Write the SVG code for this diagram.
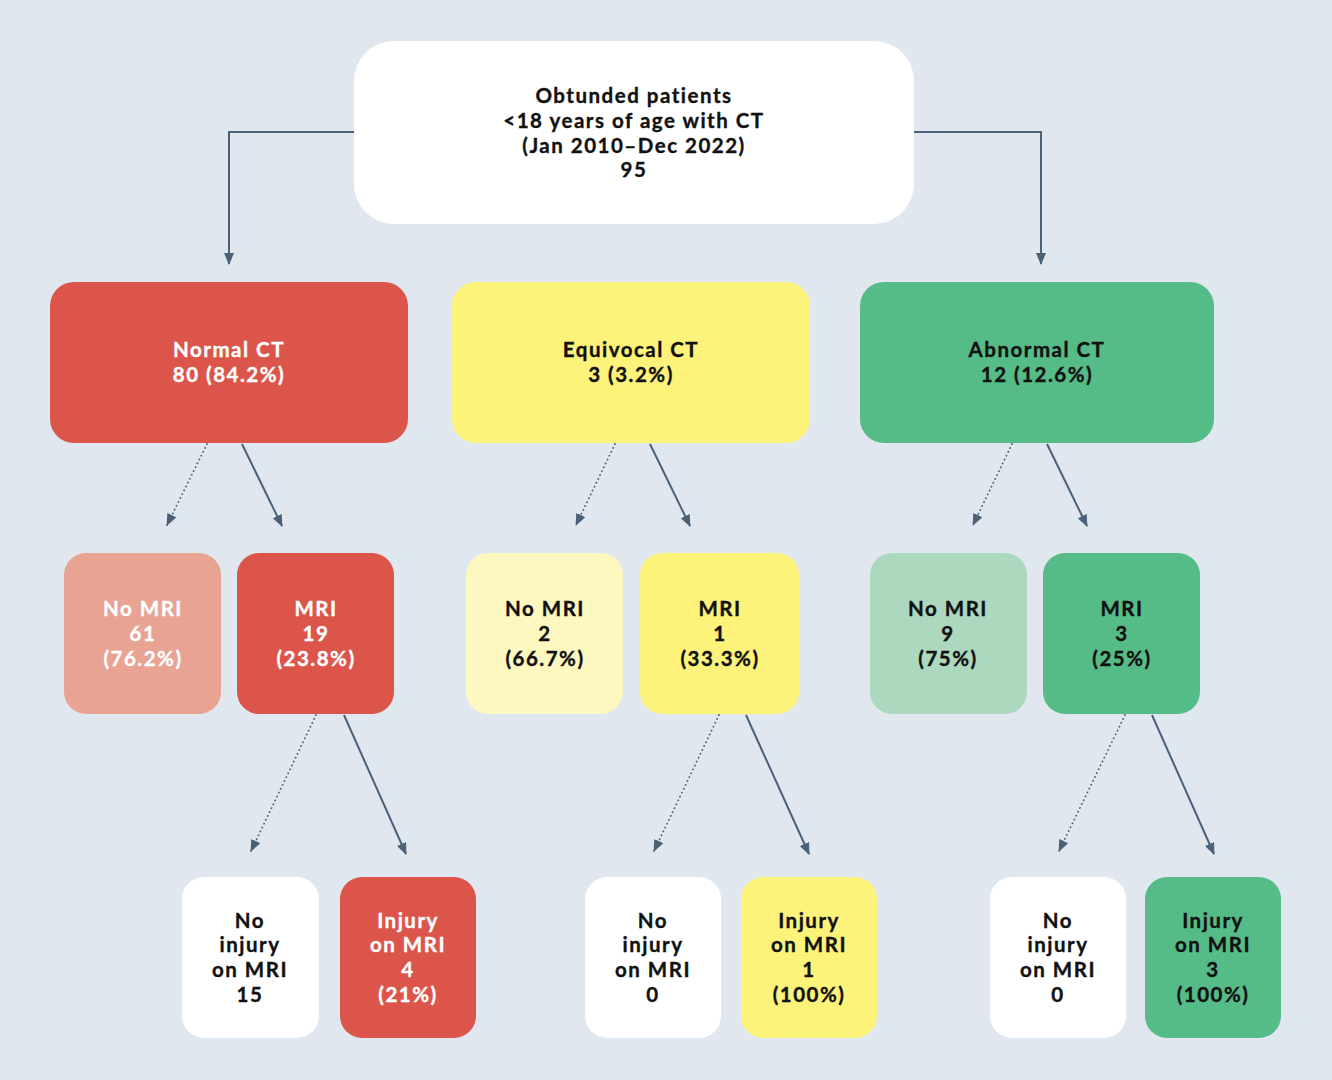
<svg xmlns="http://www.w3.org/2000/svg" width="1332" height="1080" viewBox="0 0 1332 1080">
<style>
.t{font-family:Lato,"Open Sans","Liberation Sans",sans-serif;font-weight:700;font-size:20.5px;letter-spacing:1.5px;text-anchor:middle;stroke-width:0.35px;paint-order:fill}
.w{fill:#ffffff;stroke:#ffffff}
.k{fill:#111111;stroke:#111111}
.c{fill:none;stroke:#4a6178;stroke-width:2}
.d{fill:none;stroke:#4a6178;stroke-width:1.8;stroke-dasharray:0.1 4.2;stroke-linecap:round}
</style>
<defs>
<marker id="ah" viewBox="0 0 12 10" refX="11" refY="5" markerWidth="12" markerHeight="10" markerUnits="userSpaceOnUse" orient="auto">
<path d="M0,0 L12,5 L0,10 Z" fill="#4a6178"/>
</marker>
</defs>
<rect width="1332" height="1080" fill="#e0e7ef"/>
<g id="connectors">
<path class="c" d="M354,132 H229 V264" marker-end="url(#ah)"/>
<path class="c" d="M914,132 H1041 V264" marker-end="url(#ah)"/>
<line class="d" x1="207" y1="444" x2="167" y2="525" marker-end="url(#ah)"/>
<line class="c" x1="242" y1="444" x2="282" y2="526" marker-end="url(#ah)"/>
<line class="d" x1="615" y1="444" x2="576" y2="525" marker-end="url(#ah)"/>
<line class="c" x1="650" y1="444" x2="690" y2="526" marker-end="url(#ah)"/>
<line class="d" x1="1012" y1="444" x2="973" y2="525" marker-end="url(#ah)"/>
<line class="c" x1="1047" y1="444" x2="1087" y2="526" marker-end="url(#ah)"/>
<line class="d" x1="316" y1="715" x2="251" y2="851" marker-end="url(#ah)"/>
<line class="c" x1="344" y1="715" x2="406" y2="854" marker-end="url(#ah)"/>
<line class="d" x1="719" y1="715" x2="654" y2="851" marker-end="url(#ah)"/>
<line class="c" x1="746" y1="715" x2="809" y2="854" marker-end="url(#ah)"/>
<line class="d" x1="1125" y1="715" x2="1059" y2="851" marker-end="url(#ah)"/>
<line class="c" x1="1152" y1="715" x2="1214" y2="854" marker-end="url(#ah)"/>
</g>
<g id="root">
<rect x="354" y="41" width="560" height="183" rx="40" fill="#ffffff"/>
<text class="t k" x="634" y="103">Obtunded patients</text>
<text class="t k" x="634" y="128">&lt;18 years of age with CT</text>
<text class="t k" x="634" y="153">(Jan 2010–Dec 2022)</text>
<text class="t k" x="634" y="177">95</text>
</g>
<g id="normal-ct">
<rect x="50" y="282" width="358" height="161" rx="24" fill="#dc554b"/>
<text class="t w" x="229" y="357">Normal CT</text>
<text class="t w" x="229" y="382">80 (84.2%)</text>
</g>
<g id="equivocal-ct">
<rect x="452" y="282" width="358" height="161" rx="24" fill="#fdf37a"/>
<text class="t k" x="631" y="357">Equivocal CT</text>
<text class="t k" x="631" y="382">3 (3.2%)</text>
</g>
<g id="abnormal-ct">
<rect x="860" y="282" width="354" height="161" rx="24" fill="#55bc88"/>
<text class="t k" x="1037" y="357">Abnormal CT</text>
<text class="t k" x="1037" y="382">12 (12.6%)</text>
</g>
<g id="normal-no-mri">
<rect x="64" y="553" width="157" height="161" rx="22" fill="#e8a393"/>
<text class="t w" x="143" y="616">No MRI</text>
<text class="t w" x="143" y="641">61</text>
<text class="t w" x="143" y="666">(76.2%)</text>
</g>
<g id="normal-mri">
<rect x="237" y="553" width="157" height="161" rx="22" fill="#dc554b"/>
<text class="t w" x="316" y="616">MRI</text>
<text class="t w" x="316" y="641">19</text>
<text class="t w" x="316" y="666">(23.8%)</text>
</g>
<g id="equivocal-no-mri">
<rect x="466" y="553" width="157" height="161" rx="22" fill="#fdf7c0"/>
<text class="t k" x="545" y="616">No MRI</text>
<text class="t k" x="545" y="641">2</text>
<text class="t k" x="545" y="666">(66.7%)</text>
</g>
<g id="equivocal-mri">
<rect x="640" y="553" width="159" height="161" rx="22" fill="#fdf37a"/>
<text class="t k" x="720" y="616">MRI</text>
<text class="t k" x="720" y="641">1</text>
<text class="t k" x="720" y="666">(33.3%)</text>
</g>
<g id="abnormal-no-mri">
<rect x="870" y="553" width="157" height="161" rx="22" fill="#acd9be"/>
<text class="t k" x="948" y="616">No MRI</text>
<text class="t k" x="948" y="641">9</text>
<text class="t k" x="948" y="666">(75%)</text>
</g>
<g id="abnormal-mri">
<rect x="1043" y="553" width="157" height="161" rx="22" fill="#55bc88"/>
<text class="t k" x="1122" y="616">MRI</text>
<text class="t k" x="1122" y="641">3</text>
<text class="t k" x="1122" y="666">(25%)</text>
</g>
<g id="normal-no-injury">
<rect x="182" y="877" width="137" height="161" rx="22" fill="#ffffff"/>
<text class="t k" x="250" y="928">No</text>
<text class="t k" x="250" y="952">injury</text>
<text class="t k" x="250" y="977">on MRI</text>
<text class="t k" x="250" y="1002">15</text>
</g>
<g id="normal-injury">
<rect x="340" y="877" width="136" height="161" rx="22" fill="#dc554b"/>
<text class="t w" x="408" y="928">Injury</text>
<text class="t w" x="408" y="952">on MRI</text>
<text class="t w" x="408" y="977">4</text>
<text class="t w" x="408" y="1002">(21%)</text>
</g>
<g id="equivocal-no-injury">
<rect x="585" y="877" width="136" height="161" rx="22" fill="#ffffff"/>
<text class="t k" x="653" y="928">No</text>
<text class="t k" x="653" y="952">injury</text>
<text class="t k" x="653" y="977">on MRI</text>
<text class="t k" x="653" y="1002">0</text>
</g>
<g id="equivocal-injury">
<rect x="741" y="877" width="136" height="161" rx="22" fill="#fdf37a"/>
<text class="t k" x="809" y="928">Injury</text>
<text class="t k" x="809" y="952">on MRI</text>
<text class="t k" x="809" y="977">1</text>
<text class="t k" x="809" y="1002">(100%)</text>
</g>
<g id="abnormal-no-injury">
<rect x="990" y="877" width="136" height="161" rx="22" fill="#ffffff"/>
<text class="t k" x="1058" y="928">No</text>
<text class="t k" x="1058" y="952">injury</text>
<text class="t k" x="1058" y="977">on MRI</text>
<text class="t k" x="1058" y="1002">0</text>
</g>
<g id="abnormal-injury">
<rect x="1145" y="877" width="136" height="161" rx="22" fill="#55bc88"/>
<text class="t k" x="1213" y="928">Injury</text>
<text class="t k" x="1213" y="952">on MRI</text>
<text class="t k" x="1213" y="977">3</text>
<text class="t k" x="1213" y="1002">(100%)</text>
</g>
</svg>
